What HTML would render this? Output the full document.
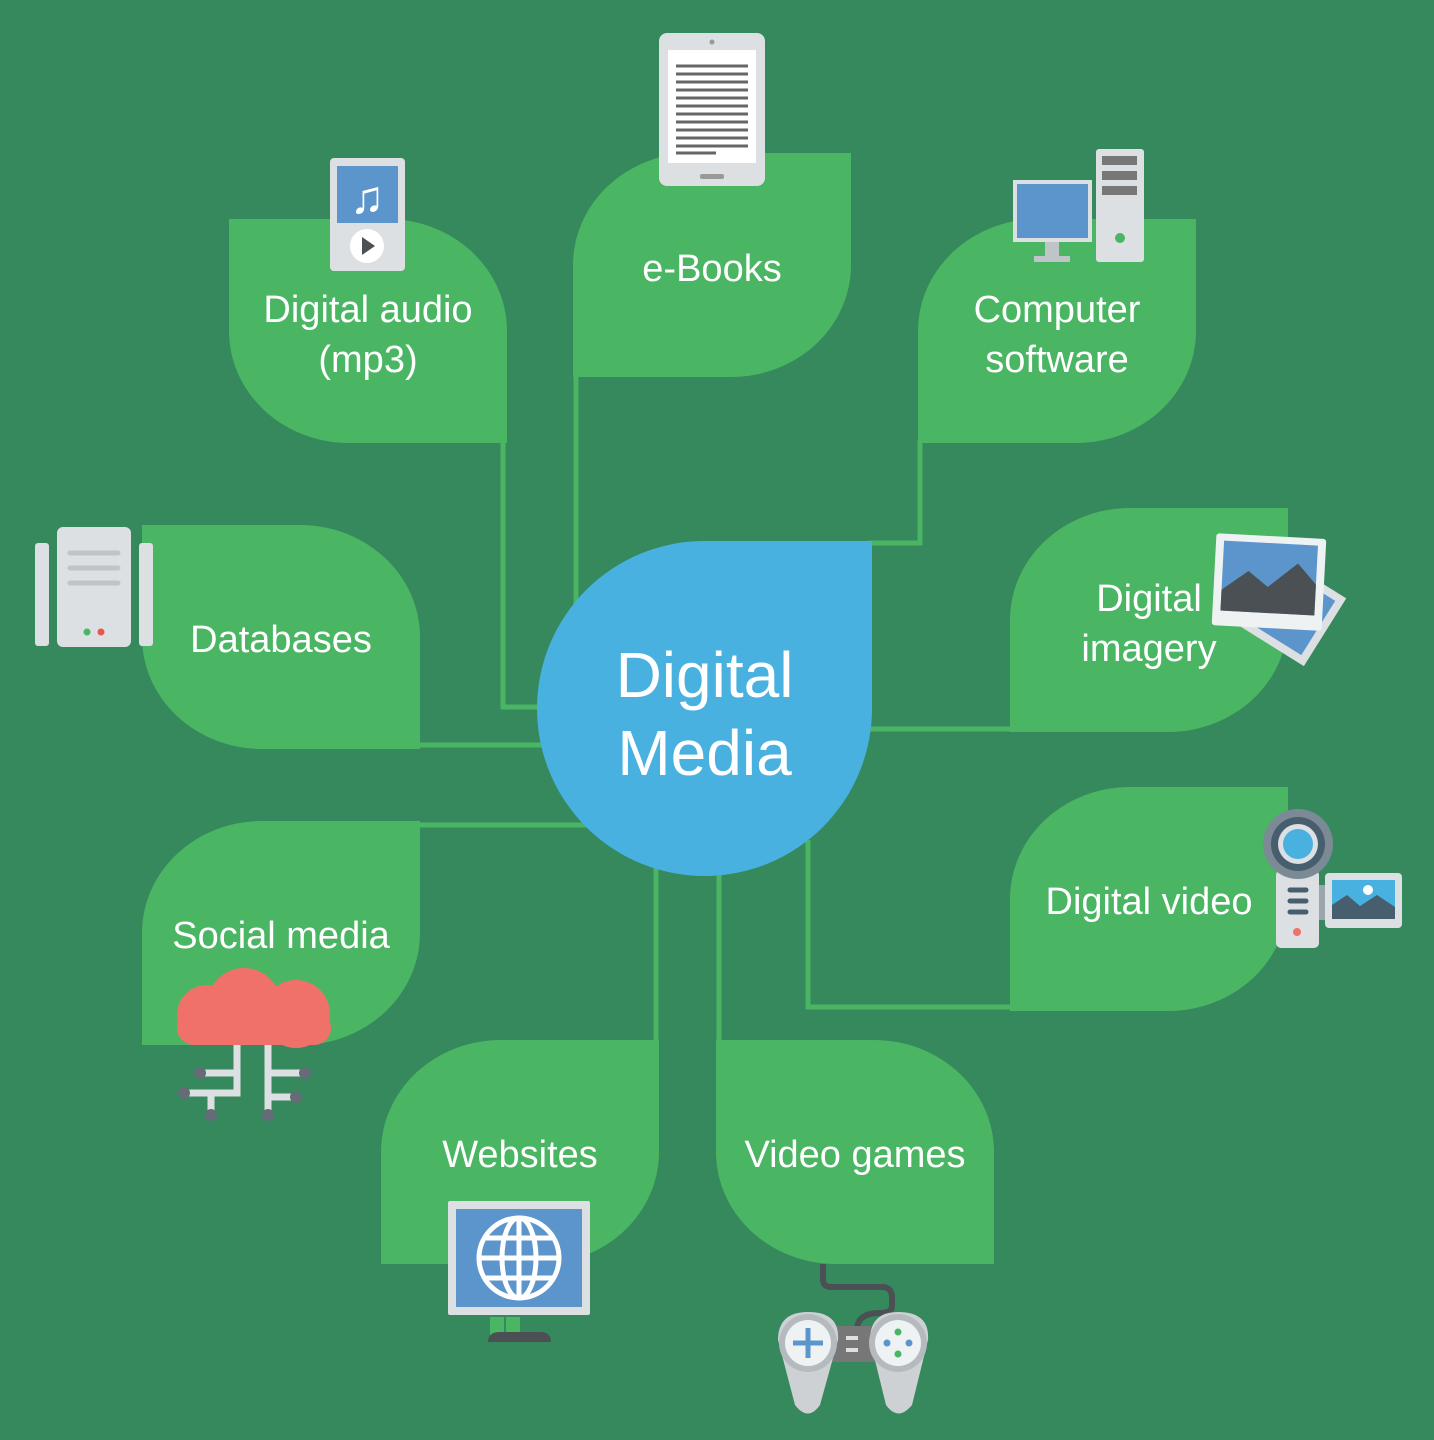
<!DOCTYPE html>
<html><head><meta charset="utf-8"><style>
html,body{margin:0;padding:0}
body{width:1434px;height:1440px;background:#35895C;position:relative;overflow:hidden;font-family:"Liberation Sans",sans-serif}
.leaf{position:absolute;width:278px;height:224px;background:#4AB563;color:#fff;font-size:38px;text-align:center;box-sizing:border-box}
.a{border-radius:0 120px 0 120px/0 112px 0 112px}
.b{border-radius:120px 0 120px 0/112px 0 112px 0}
.t{position:absolute;left:0;right:0;line-height:50px}
svg{position:absolute;left:0;top:0}
</style></head><body>
<svg width="1434" height="1440">
<g stroke="#4AB563" stroke-width="5" fill="none">
<polyline points="503,440 503,707 545,707"/>
<polyline points="576,375 576,610"/>
<polyline points="920,440 920,543 868,543"/>
<polyline points="415,745 545,745"/>
<polyline points="868,729 1014,729"/>
<polyline points="415,825 590,825"/>
<polyline points="808,840 808,1007 1014,1007"/>
<polyline points="656,860 656,1044"/>
<polyline points="719,870 719,1044"/>
</g>
</svg>
<div class="leaf a" style="left:229px;top:219px"><div class="t" style="top:66px">Digital audio<br>(mp3)</div></div>
<div class="leaf b" style="left:573px;top:153px"><div class="t" style="top:91px">e-Books</div></div>
<div class="leaf b" style="left:918px;top:219px"><div class="t" style="top:66px">Computer<br>software</div></div>
<div class="leaf a" style="left:142px;top:525px"><div class="t" style="top:90px;left:0">Databases</div></div>
<div class="leaf b" style="left:1010px;top:508px"><div class="t" style="top:66px">Digital<br>imagery</div></div>
<div class="leaf b" style="left:1010px;top:787px"><div class="t" style="top:90px">Digital video</div></div>
<div class="leaf b" style="left:142px;top:821px"><div class="t" style="top:90px">Social media</div></div>
<div class="leaf b" style="left:381px;top:1040px"><div class="t" style="top:90px">Websites</div></div>
<div class="leaf a" style="left:716px;top:1040px"><div class="t" style="top:90px">Video games</div></div>
<div style="position:absolute;left:537px;top:541px;width:335px;height:335px;background:#48B1E0;border-radius:168px 0 168px 168px;color:#fff;font-size:64px;text-align:center;box-sizing:border-box;padding-top:95px;line-height:78px">Digital<br>Media</div>
<svg width="1434" height="1440">
<!-- ebook -->
<rect x="659" y="33" width="106" height="153" rx="8" fill="#DCE0E3"/>
<rect x="668" y="50" width="88" height="113" fill="#fff"/>
<g stroke="#666" stroke-width="3"><line x1="676" y1="66" x2="748" y2="66"/><line x1="676" y1="74" x2="748" y2="74"/><line x1="676" y1="82" x2="748" y2="82"/><line x1="676" y1="90" x2="748" y2="90"/><line x1="676" y1="98" x2="748" y2="98"/><line x1="676" y1="106" x2="748" y2="106"/><line x1="676" y1="114" x2="748" y2="114"/><line x1="676" y1="122" x2="748" y2="122"/><line x1="676" y1="130" x2="748" y2="130"/><line x1="676" y1="138" x2="748" y2="138"/><line x1="676" y1="146" x2="748" y2="146"/><line x1="676" y1="153" x2="716" y2="153"/></g>
<rect x="700" y="174" width="24" height="5" rx="2" fill="#999"/><circle cx="712" cy="42" r="2.5" fill="#999"/>
<!-- mp3 -->
<rect x="330" y="158" width="75" height="113" rx="4" fill="#DCE0E3"/>
<rect x="337" y="166" width="61" height="57" fill="#5B95CC"/>
<text x="367" y="213" fill="#fff" font-size="46" text-anchor="middle">♫</text>
<circle cx="367" cy="246" r="17" fill="#fff"/><polygon points="362,237 362,255 375,246" fill="#4B5055"/>
<!-- computer -->
<rect x="1013" y="180" width="79" height="62" fill="#DCE0E3"/><rect x="1017" y="184" width="71" height="54" fill="#5B95CC"/>
<rect x="1045" y="242" width="14" height="14" fill="#BFC4C8"/><rect x="1034" y="256" width="36" height="6" fill="#BFC4C8"/>
<rect x="1096" y="149" width="48" height="113" rx="3" fill="#DCE0E3"/>
<rect x="1102" y="156" width="35" height="9" fill="#777"/><rect x="1102" y="171" width="35" height="9" fill="#777"/><rect x="1102" y="186" width="35" height="9" fill="#777"/>
<circle cx="1120" cy="238" r="5" fill="#4AB563"/>
<!-- database -->
<rect x="35" y="543" width="14" height="103" rx="3" fill="#DCE0E3"/><rect x="139" y="543" width="14" height="103" rx="3" fill="#DCE0E3"/>
<rect x="57" y="527" width="74" height="120" rx="6" fill="#DCE0E3"/>
<g stroke="#BFC4C8" stroke-width="5" stroke-linecap="round"><line x1="70" y1="553" x2="118" y2="553"/><line x1="70" y1="568" x2="118" y2="568"/><line x1="70" y1="583" x2="118" y2="583"/></g>
<circle cx="87" cy="632" r="3.5" fill="#4AB563"/><circle cx="101" cy="632" r="3.5" fill="#E8564F"/>
<!-- imagery -->
<g transform="rotate(32 1280 610)"><rect x="1230" y="565" width="100" height="80" fill="#DCE0E3"/><rect x="1238" y="573" width="84" height="64" fill="#5B95CC"/></g>
<g transform="rotate(3 1268 582)"><rect x="1214" y="536" width="110" height="92" rx="3" fill="#EEF2F3"/><rect x="1222" y="543" width="94" height="70" fill="#5B95CC"/>
<polygon points="1222,605 1222,592 1248,572 1268,587 1297,562 1316,582 1316,613 1222,613" fill="#4B5055"/></g>
<!-- camera -->
<rect x="1276" y="870" width="43" height="78" rx="5" fill="#DCE0E3"/>
<circle cx="1298" cy="844" r="35" fill="#7C8A96"/><circle cx="1298" cy="844" r="27" fill="#475E6E"/><circle cx="1298" cy="844" r="20" fill="#DCE0E3"/><circle cx="1298" cy="844" r="15" fill="#48B1E0"/>
<g stroke="#475E6E" stroke-width="5" stroke-linecap="round"><line x1="1290" y1="890" x2="1306" y2="890"/><line x1="1290" y1="901" x2="1306" y2="901"/><line x1="1290" y1="912" x2="1306" y2="912"/></g>
<circle cx="1297" cy="932" r="4" fill="#F0716A"/>
<rect x="1319" y="885" width="8" height="35" fill="#9AA5AD"/>
<rect x="1325" y="873" width="77" height="55" rx="4" fill="#DCE0E3"/><rect x="1332" y="880" width="63" height="39" fill="#48B1E0"/>
<polygon points="1332,914 1332,905 1347,895 1360,906 1377,895 1395,907 1395,919 1332,919" fill="#475E6E"/><circle cx="1368" cy="890" r="5" fill="#fff"/>
<!-- cloud -->
<g fill="#F0716A"><circle cx="244" cy="1005" r="37"/><circle cx="207" cy="1015" r="30"/><circle cx="296" cy="1014" r="34"/><rect x="177" y="1010" width="154" height="35" rx="17"/></g>
<g stroke="#DCE0E3" stroke-width="7" fill="none"><polyline points="237,1045 237,1093 180,1093"/><line x1="237" y1="1073" x2="200" y2="1073"/><line x1="211" y1="1093" x2="211" y2="1115"/><polyline points="268,1045 268,1115"/><line x1="268" y1="1073" x2="305" y2="1073"/><line x1="268" y1="1097" x2="296" y2="1097"/></g>
<g fill="#666B78"><circle cx="200" cy="1073" r="6"/><circle cx="184" cy="1093" r="6"/><circle cx="211" cy="1115" r="6"/><circle cx="268" cy="1115" r="6"/><circle cx="305" cy="1073" r="6"/><circle cx="296" cy="1097" r="6"/></g>
<!-- monitor -->
<rect x="448" y="1201" width="142" height="114" rx="2" fill="#DCE0E3"/><rect x="456" y="1209" width="126" height="98" fill="#5B95CC"/>
<rect x="490" y="1317" width="14" height="18" fill="#4AB563"/><rect x="506" y="1317" width="14" height="18" fill="#4AB563"/>
<path d="M488 1342 Q488 1332 500 1332 L540 1332 Q551 1332 551 1342 Z" fill="#4B5055"/>
<g stroke="#fff" stroke-width="5" fill="none"><ellipse cx="519" cy="1258" rx="40" ry="40"/><ellipse cx="519" cy="1258" rx="17" ry="40"/><line x1="519" y1="1218" x2="519" y2="1298"/><line x1="480" y1="1258" x2="558" y2="1258"/><line x1="486" y1="1238" x2="552" y2="1238"/><line x1="486" y1="1278" x2="552" y2="1278"/></g>
<!-- gamepad -->
<path d="M823 1264 L823 1280 Q823 1287 832 1287 L882 1287 Q892 1287 892 1298 L892 1306 Q892 1313 880 1313 Q857 1313 857 1330" stroke="#4B5055" stroke-width="6" fill="none"/>
<rect x="830" y="1326" width="50" height="36" fill="#777"/>
<rect x="846" y="1336" width="12" height="4" fill="#DCE0E3"/><rect x="846" y="1348" width="12" height="4" fill="#DCE0E3"/>
<path d="M778 1340 Q778 1312 808 1312 Q840 1312 838 1340 L820 1405 Q808 1422 795 1405 Z" fill="#CDD1D4"/>
<path d="M870 1340 Q870 1312 898 1312 Q930 1312 928 1340 L912 1405 Q898 1422 886 1405 Z" fill="#CDD1D4"/>
<circle cx="808" cy="1343" r="29" fill="#B5BABE"/><circle cx="808" cy="1343" r="23" fill="#EEF2F3"/>
<circle cx="898" cy="1343" r="29" fill="#B5BABE"/><circle cx="898" cy="1343" r="23" fill="#EEF2F3"/>
<g stroke="#5B95CC" stroke-width="5"><line x1="808" y1="1328" x2="808" y2="1358"/><line x1="793" y1="1343" x2="823" y2="1343"/></g>
<circle cx="898" cy="1332" r="3.5" fill="#4AB563"/><circle cx="898" cy="1354" r="3.5" fill="#4AB563"/><circle cx="887" cy="1343" r="3.5" fill="#5B95CC"/><circle cx="909" cy="1343" r="3.5" fill="#5B95CC"/>
</svg>
</body></html>
